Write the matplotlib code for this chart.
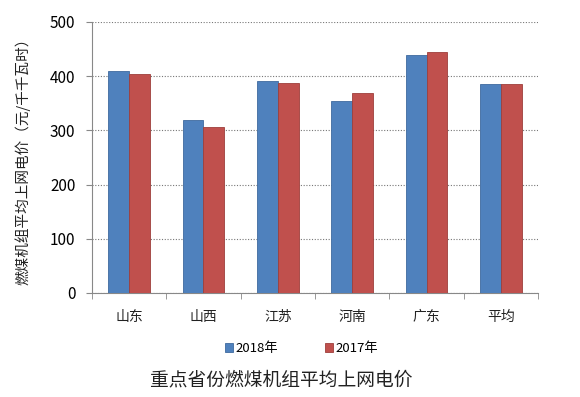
import matplotlib
matplotlib.use("Agg")
import matplotlib.pyplot as plt
import numpy as np

plt.rcParams["font.family"] = ["Noto Sans CJK SC", "DejaVu Sans"]

provinces = ["山东", "山西", "江苏", "河南", "广东", "平均"]
price_2018 = [409, 320, 391, 354, 440, 386]
price_2017 = [404, 307, 388, 369, 444, 386]
series_labels = ["2018年", "2017年"]
yticks = [0, 100, 200, 300, 400, 500]

fig = plt.figure(figsize=(5.8, 3.97), dpi=100)
ax = fig.add_axes([0.1586, 0.262, 0.769, 0.6826])

x = np.arange(len(provinces))
w = 0.28
ax.bar(x - w / 2, price_2018, w, color="#4F81BD", edgecolor="#3F6A9E",
       linewidth=0.6, label=series_labels[0], zorder=3)
ax.bar(x + w / 2, price_2017, w, color="#C0504D", edgecolor="#9E3E3B",
       linewidth=0.6, label=series_labels[1], zorder=3)

ax.set_xlim(-0.5, len(provinces) - 0.5)
ax.set_ylim(0, 500)
ax.set_yticks(yticks)
ax.tick_params(axis="y", labelsize=11, length=4, color="#888888", pad=8)
ax.yaxis.grid(True, linestyle=(0, (1, 1.5)), color="#777777", linewidth=0.8, zorder=0)

ax.set_xticks(x)
ax.set_xticklabels(provinces, fontsize=10, color="#222222")
ax.set_xticks(np.arange(-0.5, len(provinces)), minor=True)
ax.tick_params(axis="x", which="major", length=0, pad=12)
ax.tick_params(axis="x", which="minor", length=4, color="#888888")

for side in ["top", "right"]:
    ax.spines[side].set_visible(False)
for side in ["left", "bottom"]:
    ax.spines[side].set_color("#888888")
    ax.spines[side].set_linewidth(0.8)

ax.set_ylabel("燃煤机组平均上网电价（元/千千瓦时）", fontsize=10.5, labelpad=14,
              color="#222222")

fig.legend(loc="center", bbox_to_anchor=(0.52, 0.122), ncol=2, frameon=False,
           fontsize=9.5, handlelength=0.6, handleheight=0.6, handletextpad=0.2,
           columnspacing=3.5)
fig.text(0.485, 0.042, "重点省份燃煤机组平均上网电价", ha="center", va="center",
         fontsize=13.5, color="#222222")

fig.savefig("out.png", dpi=100)
